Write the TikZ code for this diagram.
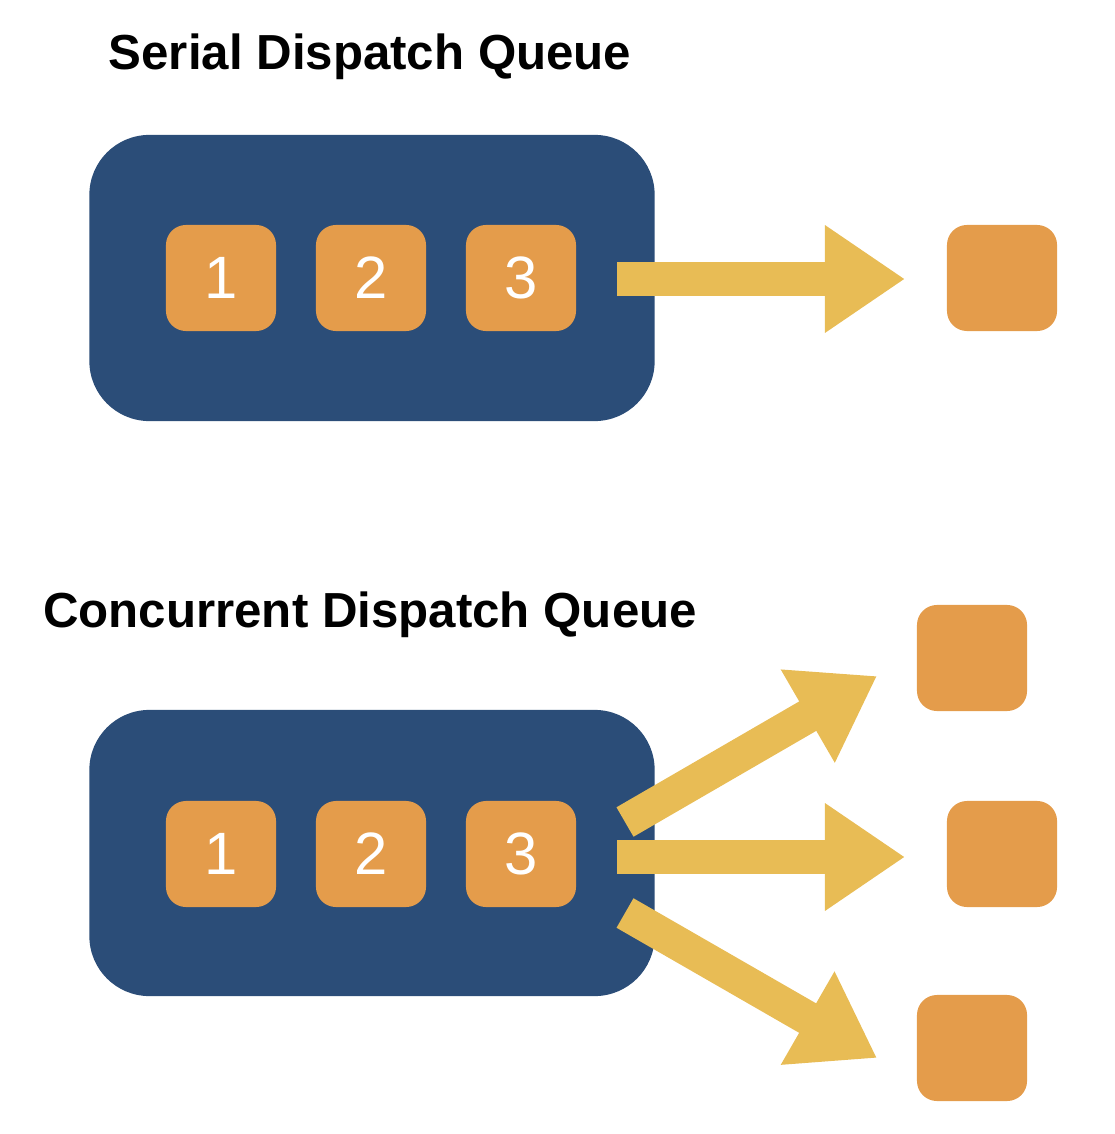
\documentclass[tikz,border=0pt]{standalone}
\usepackage{fontspec}
\setmainfont{Liberation Sans}
\usetikzlibrary{arrows.meta}
\definecolor{queueblue}{HTML}{2B4D78}
\definecolor{taskorange}{HTML}{E49C4B}
\definecolor{flowyellow}{HTML}{E8BC55}
\begin{document}
\begin{tikzpicture}[x=0.01cm, y=-0.01cm,
    queue/.style = {fill=queueblue, rounded corners=0.6cm, minimum width=5.65cm, minimum height=2.86cm, inner sep=0},
    task/.style = {fill=taskorange, rounded corners=0.2cm, minimum width=1.1cm, minimum height=1.06cm, inner sep=0, text=white, font=\fontsize{17}{17}\selectfont},
    title/.style = {font=\fontsize{14}{14}\selectfont\bfseries},
    flow/.style = {draw=flowyellow, line width=0.34cm, -{Triangle[length=0.8cm, width=1.02cm]}}]
    \useasboundingbox (0,0) rectangle (1114,1134);
    % serial
    \node[title] (t1) at (370,57) {Serial Dispatch Queue};
    \node[queue] (q1) at (372,278) {};
    \node[task] (a1) at (221,278) {1};
    \node[task] (a2) at (371,278) {2};
    \node[task] (a3) at (521,278) {3};
    \node[task] (r1) at (1002,278) {};
    \coordinate (s1) at (617,279);
    \coordinate (e1) at (905,279);
    \draw[flow] (s1) to (e1);
    % concurrent
    \node[title] (t2) at (370,615) {Concurrent Dispatch Queue};
    \node[queue] (q2) at (372,853) {};
    \node[task] (b1) at (221,854) {1};
    \node[task] (b2) at (371,854) {2};
    \node[task] (b3) at (521,854) {3};
    \node[task] (u1) at (972,658) {};
    \node[task] (u2) at (1002,854) {};
    \node[task] (u3) at (972,1048) {};
    \coordinate (s2) at (625,822);
    \coordinate (e2) at (877,676);
    \coordinate (s3) at (617,857);
    \coordinate (e3) at (905,857);
    \coordinate (s4) at (625,913);
    \coordinate (e4) at (877,1058);
    \draw[flow] (s2) to (e2);
    \draw[flow] (s3) to (e3);
    \draw[flow] (s4) to (e4);
\end{tikzpicture}
\end{document}
